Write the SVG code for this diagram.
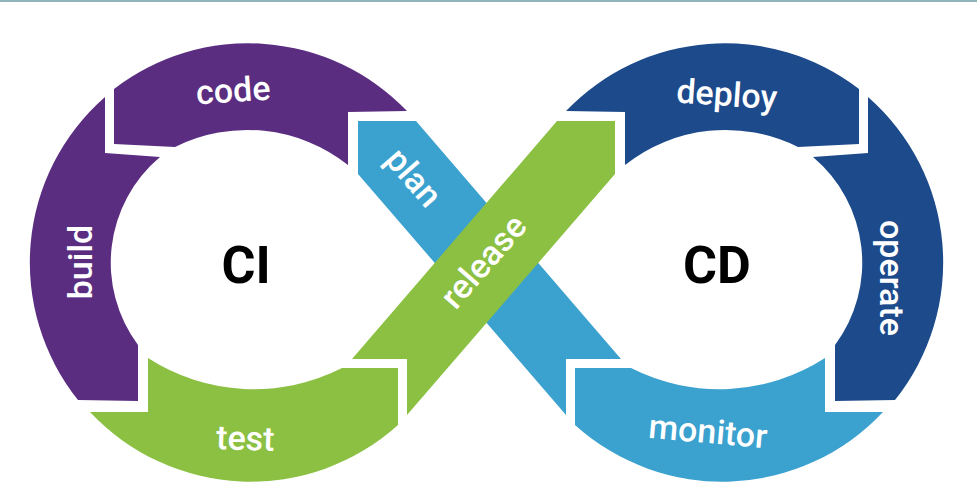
<svg xmlns="http://www.w3.org/2000/svg" width="977" height="493" viewBox="0 0 977 493">
<style>
.lbl{font-family:Roboto,"Liberation Sans",sans-serif;font-size:34px;font-weight:500;fill:#fff;text-anchor:middle}
.big{font-family:Roboto,"Liberation Sans",sans-serif;font-size:52px;font-weight:700;fill:#000;text-anchor:middle}
.purple{fill:#5A2D81}
.green{fill:#8BC043}
.lblue{fill:#3BA1CF}
.dblue{fill:#1C4A8B}
</style>
<rect width="977" height="493" fill="#fff"/>
<rect width="977" height="2" fill="#8FB4B9"/>
<g id="code">
<path class="purple" d="M407,111 A220,220 0 0 0 114,89 L114,144 L175,147 A162,162 0 0 1 348,165 L348,112 Z"/>
<text class="lbl" x="234" y="102" transform="rotate(-4 234 102)">code</text>
</g>
<g id="build">
<path class="purple" d="M105,97 A220,220 0 0 0 78,400 L138,401 L138,345 A138,138 0 0 1 160,157 L105,153 Z"/>
<text class="lbl" x="92" y="262" transform="rotate(-90 92 262)">build</text>
</g>
<g id="test">
<path class="green" d="M90,412 L148,412 L148,358 A195,195 0 0 0 342,368 L398,368 L398,425 A220,220 0 0 1 90,412 Z"/>
<text class="lbl" x="245" y="450" transform="rotate(2 245 450)">test</text>
</g>
<g id="plan">
<path class="lblue" d="M621,359 L416,121 L358,121 L358,174 L566,415 L566,359 Z"/>
<text class="lbl" x="405" y="185" transform="rotate(49 405 185)">plan</text>
</g>
<g id="release">
<path class="green" d="M352,359 L557,121 L615,121 L615,174 L407,415 L407,359 Z"/>
<text class="lbl" x="492" y="269" transform="rotate(-49 492 269)">release</text>
</g>
<g id="deploy">
<path class="dblue" d="M566,111 A220,220 0 0 1 859,89 L859,144 L798,147 A162,162 0 0 0 625,165 L625,112 Z"/>
<text class="lbl" x="726" y="106" transform="rotate(4 726 106)">deploy</text>
</g>
<g id="operate">
<path class="dblue" d="M868,97 A220,220 0 0 1 895,400 L835,401 L835,345 A138,138 0 0 0 813,157 L868,153 Z"/>
<text class="lbl" x="880" y="278" transform="rotate(90 880 278)">operate</text>
</g>
<g id="monitor">
<path class="lblue" d="M883,412 L825,412 L825,358 A195,195 0 0 1 631,368 L575,368 L575,425 A220,220 0 0 0 883,412 Z"/>
<text class="lbl" x="707" y="443" transform="rotate(5 707 443)">monitor</text>
</g>
<g id="ci"><text class="big" x="246" y="283">CI</text></g>
<g id="cd"><text class="big" x="717" y="283">CD</text></g>
<g id="connectors"></g>
</svg>
